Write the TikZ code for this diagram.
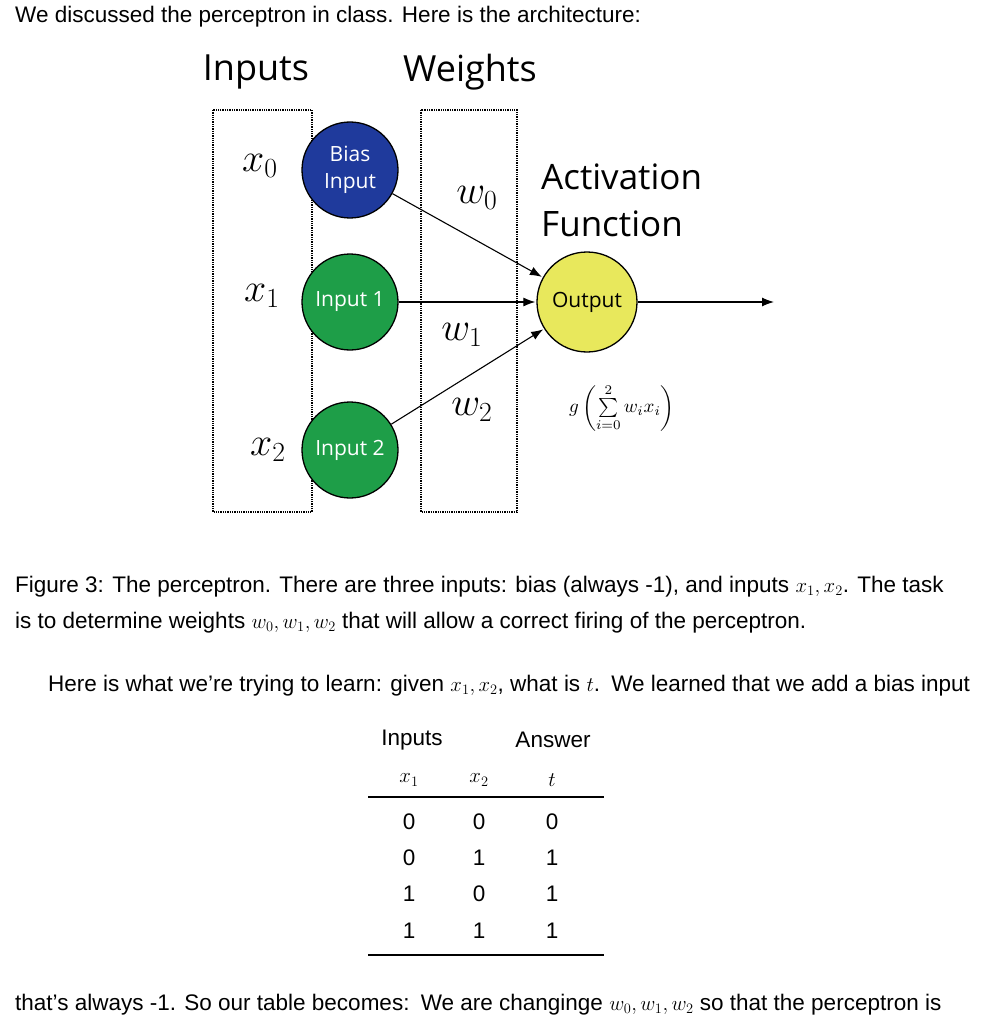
\documentclass[tikz,border=0pt]{standalone}
\usepackage{fontspec}
\setmainfont{Liberation Sans}
\newfontfamily\diagfont{Open Sans}
\usepackage{amsmath}
\usetikzlibrary{arrows,arrows.meta,positioning}
\definecolor{biasblue}{HTML}{1F3A9C}
\definecolor{ingreen}{HTML}{1E9E48}
\definecolor{outyellow}{HTML}{E8E85C}
\begin{document}
\begin{tikzpicture}[x=1pt, y=-1pt, >={Latex[length=12pt,width=9pt]},
   every node/.style={inner sep=0pt},
   txt/.style={anchor=west, font=\fontsize{22.5}{26}\selectfont},
   neuron/.style={circle, draw=black, line width=1.3pt, minimum size=96pt, text=white, font=\diagfont\fontsize{21}{27}\selectfont, align=center},
   head/.style={font=\diagfont\fontsize{36}{40}\selectfont},
   wlab/.style={scale=1.6, font=\fontsize{24}{26}\selectfont},
   cell/.style={font=\fontsize{22.5}{26}\selectfont},
   link/.style={->, line width=1.1pt, shorten >=1pt}]
   \useasboundingbox (0,0) rectangle (997,1024);
   % text above
   \node[txt] (intro) at (15,17) {We discussed the perceptron in class. Here is the architecture:};
   % headings
   \node[head] (hin) at (256,72) {Inputs};
   \node[head] (hw) at (470,72) {Weights};
   \draw[densely dotted, line width=1.3pt] (213,110) rectangle (312,512);
   \draw[densely dotted, line width=1.3pt] (421,110) rectangle (517,512);
   % neurons
   \node[neuron, fill=biasblue] (bias) at (350,170) {Bias\\Input};
   \node[neuron, fill=ingreen] (in1) at (350,302) {Input 1};
   \node[neuron, fill=ingreen] (in2) at (350,450) {Input 2};
   \node[neuron, fill=outyellow, minimum size=100pt, text=black] (out) at (587,302) {Output};
   \coordinate (end) at (775,302);
   \node[wlab] (x0) at (260,166) {$x_0$};
   \node[wlab] (x1) at (262,296) {$x_1$};
   \node[wlab] (x2) at (268,450) {$x_2$};
   \node[wlab] (w0) at (477,198) {$w_0$};
   \node[wlab] (w1) at (462,335) {$w_1$};
   \node[wlab] (w2) at (472,410) {$w_2$};
   \node[anchor=west, align=left, font=\diagfont\fontsize{35}{47}\selectfont] (act) at (541,200) {Activation\\Function};
   \node (form) at (622,408) {\scalebox{1.9}{$g\left(\sum\limits_{i=0}^{2} w_i x_i\right)$}};
   \draw[link] (bias) -- (out);
   \draw[link] (in1) -- (out);
   \draw[link] (in2) -- (out);
   \draw[link] (out) -- (end);
   % caption
   \node[txt] (cap1) at (15,587) {Figure 3: The perceptron. There are three inputs: bias (always -1), and inputs $x_1, x_2$. The task};
   \node[txt] (cap2) at (15,623) {is to determine weights $w_0, w_1, w_2$ that will allow a correct firing of the perceptron.};
   \node[txt] (para) at (48,686) {Here is what we're trying to learn: given $x_1, x_2$, what is $t$.\enspace We learned that we add a bias input};
   % table
   \node[cell] (tin) at (412,740) {Inputs};
   \node[cell] (tans) at (553,740) {Answer};
   \node[cell] (tx1) at (409,780) {$x_1$};
   \node[cell] (tx2) at (479,780) {$x_2$};
   \node[cell] (tt) at (552,780) {$t$};
   \draw[line width=1.3pt] (368,797) -- (604,797);
   \foreach \y/\a/\b/\c [count=\i] in {822/0/0/0, 858/0/1/1, 894/1/0/1, 931/1/1/1} {
     \node[cell] (ra\i) at (409,\y) {\a};
     \node[cell] (rb\i) at (479,\y) {\b};
     \node[cell] (rc\i) at (552,\y) {\c};
   }
   \draw[line width=1.3pt] (368,955) -- (604,955);
   \node[txt] (tail) at (15,1005) {that's always -1. So our table becomes:\enspace We are changinge $w_0, w_1, w_2$ so that the perceptron is};
\end{tikzpicture}
\end{document}
